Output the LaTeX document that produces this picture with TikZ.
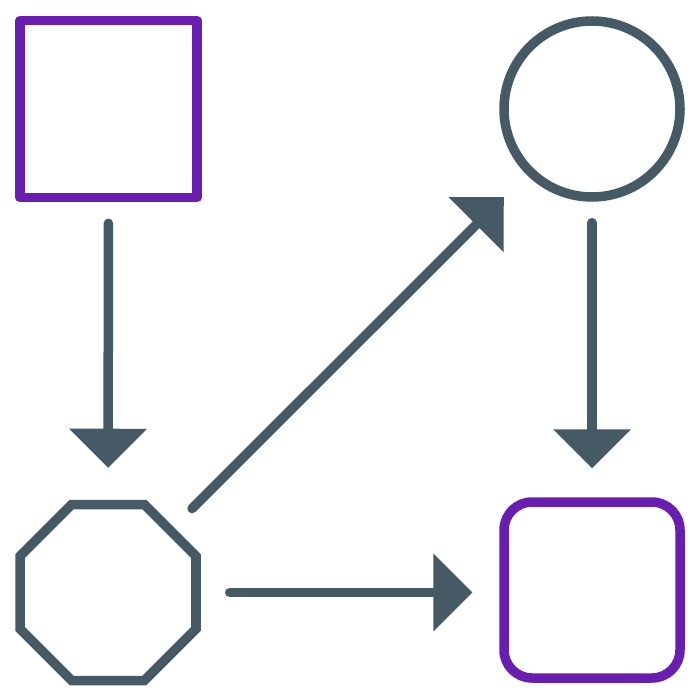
\documentclass[tikz,border=0pt]{standalone}
\usepackage{tikz}
\usepackage{xcolor}
\usetikzlibrary{arrows.meta}
\usetikzlibrary{shapes.geometric}

\definecolor{slate}{HTML}{455A64}
\definecolor{iconpurple}{HTML}{6A1EB0}

\tikzset{
	iconshape/.style={line width=9.5pt, inner sep=0pt, fill=white},
	flow/.style={draw=slate, line width=9.5pt, line cap=round,
		-{Triangle[width=78pt,length=39pt,line width=0pt]}}
}

\begin{document}
\begin{tikzpicture}[x=1pt,y=-1pt]
			\useasboundingbox (0,0) rectangle (700,700);
			% the four shapes
			\node[iconshape, draw=iconpurple, line join=round, rectangle, minimum size=177pt] (sq) at (108.5,109) {};
			\node[iconshape, draw=slate, circle, minimum size=176pt] (circ) at (592,109) {};
			\node[iconshape, draw=slate, regular polygon, regular polygon sides=8, minimum size=190.5pt] (oct) at (108,592.5) {};
			\node[iconshape, draw=iconpurple, rectangle, rounded corners=28pt, minimum size=176pt] (rsq) at (592,590) {};
			% arrows
			\draw[flow, shorten <=21pt, shorten >=32pt] (sq) -- (oct);
			\draw[flow, shorten <=21pt, shorten >=29pt] (circ) -- (rsq);
			\draw[flow, shorten <=26pt, shorten >=32pt] (oct) -- (circ);
			\draw[flow, shorten <=29pt, shorten >=27pt] (oct.east) -- (oct.east -| rsq.west);
\end{tikzpicture}
\end{document}
